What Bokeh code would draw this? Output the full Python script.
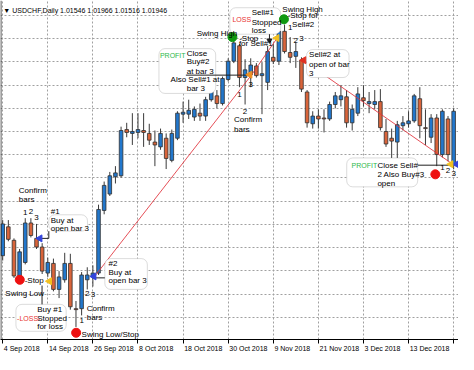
import numpy as np
from bokeh.plotting import figure
from bokeh.models import FixedTicker, BoxAnnotation, ColumnDataSource, Span
from bokeh.core.properties import value
from bokeh.embed import file_html
from bokeh.resources import INLINE

# ---- data: USDCHF daily candles (bar index 0 = 4 Sep 2018) ----
opens = [0.9700, 0.9760, 0.9732, 0.9658, 0.9686, 0.9768, 0.9736, 0.9718, 0.9664, 0.9684,
         0.9630, 0.9650, 0.9684, 0.9590, 0.9590, 0.9650, 0.9656, 0.9664, 0.9794, 0.9828,
         0.9864, 0.9866, 0.9962, 0.9954, 0.9956, 0.9960, 0.9954, 0.9936, 0.9926, 0.9944,
         0.9898, 0.9944, 0.9994, 0.9994, 0.9988, 0.9996, 0.9990, 1.0024, 1.0032, 1.0016,
         1.0066, 1.0104, 1.0136, 1.0070, 1.0076, 1.0094, 1.0074, 1.0060, 1.0112, 1.0104,
         1.0166, 1.0122, 1.0114, 1.0106, 1.0040, 0.9974, 0.9990, 0.9986, 0.9984, 1.0014,
         1.0024, 1.0030, 0.9976, 0.9996, 1.0028, 1.0016, 1.0014, 1.0020, 0.9958, 0.9944,
         0.9936, 0.9970, 0.9974, 0.9980, 1.0026, 0.9966, 0.9946, 0.9986, 0.9910, 0.9984,
         0.9890]
highs = [0.9774, 0.9774, 0.9736, 0.9714, 0.9778, 0.9778, 0.9766, 0.9726, 0.9696, 0.9694,
         0.9668, 0.9706, 0.9704, 0.9606, 0.9666, 0.9676, 0.9680, 0.9806, 0.9854, 0.9874,
         0.9886, 0.9968, 0.9976, 0.9996, 0.9996, 0.9996, 0.9974, 0.9960, 0.9964, 0.9954,
         0.9962, 1.0000, 1.0020, 1.0024, 1.0010, 1.0016, 1.0030, 1.0056, 1.0044, 1.0072,
         1.0110, 1.0146, 1.0140, 1.0108, 1.0110, 1.0100, 1.0102, 1.0136, 1.0140, 1.0174,
         1.0180, 1.0154, 1.0144, 1.0112, 1.0044, 1.0000, 1.0004, 1.0004, 1.0020, 1.0040,
         1.0054, 1.0044, 1.0014, 1.0050, 1.0054, 1.0040, 1.0044, 1.0046, 0.9984, 0.9964,
         0.9980, 0.9990, 1.0000, 1.0036, 1.0050, 1.0004, 0.9994, 0.9994, 1.0004, 0.9990,
         1.0006]
lows = [0.9690, 0.9730, 0.9654, 0.9654, 0.9682, 0.9738, 0.9714, 0.9662, 0.9656, 0.9626,
        0.9612, 0.9644, 0.9588, 0.9552, 0.9576, 0.9630, 0.9636, 0.9660, 0.9786, 0.9824,
        0.9850, 0.9862, 0.9946, 0.9930, 0.9944, 0.9926, 0.9930, 0.9886, 0.9920, 0.9880,
        0.9894, 0.9940, 0.9976, 0.9984, 0.9980, 0.9980, 0.9980, 1.0020, 1.0006, 1.0012,
        1.0062, 1.0100, 1.0050, 1.0014, 1.0050, 1.0070, 0.9994, 1.0044, 1.0098, 1.0096,
        1.0120, 1.0100, 1.0090, 1.0040, 0.9966, 0.9964, 0.9964, 0.9956, 0.9980, 1.0006,
        1.0010, 0.9966, 0.9960, 0.9990, 1.0010, 0.9996, 1.0004, 0.9960, 0.9926, 0.9898,
        0.9898, 0.9960, 0.9966, 0.9976, 0.9944, 0.9930, 0.9934, 0.9886, 0.9904, 0.9896,
        0.9880]
closes = [0.9766, 0.9734, 0.9658, 0.9708, 0.9768, 0.9742, 0.9718, 0.9668, 0.9686, 0.9630,
          0.9656, 0.9684, 0.9594, 0.9588, 0.9660, 0.9660, 0.9664, 0.9796, 0.9846, 0.9866,
          0.9872, 0.9960, 0.9956, 0.9958, 0.9962, 0.9956, 0.9940, 0.9930, 0.9954, 0.9902,
          0.9954, 0.9996, 0.9998, 1.0002, 1.0004, 0.9990, 1.0024, 1.0044, 1.0016, 1.0068,
          1.0104, 1.0142, 1.0070, 1.0086, 1.0096, 1.0074, 1.0078, 1.0124, 1.0104, 1.0166,
          1.0124, 1.0112, 1.0124, 1.0046, 0.9976, 0.9990, 0.9984, 0.9984, 1.0014, 1.0032,
          1.0032, 0.9976, 1.0004, 1.0036, 1.0022, 1.0020, 1.0020, 0.9966, 0.9932, 0.9938,
          0.9972, 0.9976, 0.9980, 1.0032, 0.9970, 0.9964, 0.9986, 0.9910, 1.0000, 0.9910,
          1.0000]
tick_bars = [0, 8, 16, 24, 32, 40, 48, 56, 64, 72, 80]
tick_labels = ["4 Sep 2018", "14 Sep 2018", "26 Sep 2018", "8 Oct 2018", "18 Oct 2018",
               "30 Oct 2018", "9 Nov 2018", "21 Nov 2018", "3 Dec 2018", "13 Dec 2018",
               "26 Dec 2018"]
title_text = "\u25BC USDCHF,Daily  1.01546 1.01966 1.01516 1.01946"

BULL = "#2277cc"
BEAR = "#d9643a"
FONT = value("Liberation Sans")
Y0, Y1 = 0.9526, 1.0230
X0, X1 = -0.39, 80.86

idx = list(range(len(opens)))
src = ColumnDataSource(dict(
    x=idx, o=opens, h=highs, l=lows, c=closes,
    top=[max(a, b) for a, b in zip(opens, closes)],
    bot=[min(a, b) for a, b in zip(opens, closes)],
    col=[BULL if c >= o else BEAR for o, c in zip(opens, closes)],
))

p = figure(width=458, height=354, x_range=(X0, X1), y_range=(Y0, Y1),
           output_backend="svg", toolbar_location=None,
           min_border_left=0, min_border_right=0, min_border_top=0, min_border_bottom=0)
p.outline_line_color = None
p.background_fill_color = "white"
p.yaxis.visible = False

# grid
p.xgrid.ticker = FixedTicker(ticks=tick_bars)
p.ygrid.ticker = FixedTicker(ticks=[1.01988 - 0.00482 * k for k in range(14)])
for g in (p.xgrid, p.ygrid):
    g.grid_line_color = "#a0a0a0"
    g.grid_line_dash = "2 2"
    g.grid_line_width = 1

# x axis: tick marks (minor ticks) at the label bars, date text to the right of each tick
PX_PER_BAR = 458 / (X1 - X0)
CHAR_EM = {" ": 0.278, "S": 0.667, "e": 0.556, "p": 0.556, "O": 0.778, "c": 0.5, "t": 0.278,
           "N": 0.722, "o": 0.556, "v": 0.5, "D": 0.722}
LAB_PX = 7


def half_width_bars(s):
    em = sum(CHAR_EM.get(ch, 0.556) for ch in s)
    return em * LAB_PX / 2 / PX_PER_BAR + 0.2


lab_pos = [b + half_width_bars(t) for b, t in zip(tick_bars, tick_labels)]
ax = p.xaxis[0]
ax.ticker = FixedTicker(ticks=lab_pos, minor_ticks=tick_bars)
ax.major_label_overrides = {pos: t for pos, t in zip(lab_pos, tick_labels)}
ax.major_label_text_font = "Liberation Sans"
ax.major_label_text_font_size = f"{LAB_PX}px"
ax.major_label_text_color = "black"
ax.major_label_standoff = 1
ax.major_tick_out = 4
ax.major_tick_in = 0
ax.major_tick_line_color = None
ax.minor_tick_out = 4
ax.minor_tick_in = 0
ax.minor_tick_line_color = "black"
ax.axis_line_color = "black"

# left chart border
p.add_layout(Span(location=-0.31, dimension="height", line_color="#202020", line_width=1))

# candles
p.segment(x0="x", y0="h", x1="x", y1="l", source=src, line_color="#3a3a3a", line_width=1)
p.vbar(x="x", width=0.64, top="top", bottom="bot", source=src,
       fill_color="col", line_color="#303030", line_width=0.8)

# trade lines
p.line([16.24, 44.18, 48.81], [0.9656, 1.0076, 1.0154], line_color="#e0303a", line_width=1, line_alpha=0.85)
p.line([53.27, 79.84], [1.0106, 0.9890], line_color="#e0303a", line_width=1, line_alpha=0.85)

# annotation boxes
boxes = [(8.18, 15.04, 0.9751, 0.9785), (2.35, 11.26, 0.9543, 0.9599),
         (18.12, 25.66, 0.9630, 0.9694), (27.72, 37.78, 1.0037, 1.0130),
         (40.29, 49.32, 1.0160, 1.0215), (53.9, 61.44, 1.0070, 1.0128),
         (61.03, 73.62, 0.9843, 0.9903)]
for l, r, b, t in boxes:
    p.add_layout(BoxAnnotation(left=l, right=r, bottom=b, top=t, fill_color="white",
                               fill_alpha=1, line_color="#8a8a8a", line_width=1,
                               border_radius=6))

# connector lines
conns = [([6.6, 8.18, 8.18], [0.9736, 0.9736, 0.9751]),
         ([6.98, 6.98], [0.9638, 0.9599]),
         ([16.4, 18.12], [0.9654, 0.9654]),
         ([32.5, 43.67], [1.0075, 1.0075]),
         ([47.32, 47.32], [1.0160, 1.0148]),
         ([73.62, 79.33], [0.9888, 0.9888])]
for xs, ys in conns:
    p.line(xs, ys, line_color="#202020", line_width=1, level="overlay")
p.scatter([47.32], [1.0147], marker="inverted_triangle", size=5, color="#202020", level="overlay")

# dots
p.scatter([3.03, 13.03, 76.75], [0.9650, 0.9540, 0.9869], size=9, color="#ee1010", level="overlay")
p.scatter([40.75, 49.89], [1.0154, 1.0191], size=9, color="#119911", level="overlay")

# arrows
p.scatter([6.6, 16.18, 80.5], [0.9736, 0.9657, 0.9890], marker="triangle", angle=np.pi / 2,
          size=7, color="#3344dd", level="overlay")
p.scatter([8.3, 48.64, 79.5], [0.9647, 1.0152, 0.9890], marker="triangle", angle=np.pi / 2,
          size=7, color="#f2c020", level="overlay")
p.scatter([43.84], [1.0076], marker="triangle", angle=np.pi / 2, size=7, color="#f09020", level="overlay")
p.scatter([53.4], [1.0106], marker="triangle", angle=np.pi / 2, size=7, color="#e03020", level="overlay")

# texts
black_txt = [
    ("Confirm", 2.86, 0.9835), ("bars", 2.86, 0.9816),
    ("#1", 8.52, 0.9791), ("Buy at", 8.52, 0.9774), ("open bar 3", 8.52, 0.9756),
    ("-Stop", 3.89, 0.9649), ("Swing Low", 0.46, 0.9622),
    ("Buy  #1", 6.12, 0.9588), ("Stopped", 6.12, 0.9570), ("for loss", 6.12, 0.9552),
    ("Confirm", 14.9, 0.9591), ("bars", 14.9, 0.9572),
    ("Swing Low/Stop", 14.0, 0.9537),
    ("#2", 18.76, 0.9684), ("Buy at", 18.76, 0.9666), ("open bar 3", 18.76, 0.9648),
    ("Close", 32.64, 1.0120), ("Buy#2", 32.64, 1.0103), ("at bar 3", 32.64, 1.0083),
    ("Also Sell#1 at", 29.78, 1.0065), ("bar 3", 32.64, 1.0047),
    ("Swing High", 34.41, 1.0161), ("-Stop", 41.95, 1.0151), ("for Sell#1", 41.9, 1.0140),
    ("Sell#1", 44.18, 1.0205), ("Stopped", 44.18, 1.0185), ("loss", 44.18, 1.0168),
    ("Swing High", 49.61, 1.0212), ("-Stop for", 50.52, 1.0199), ("Sell#2", 51.33, 1.0181),
    ("Sell#2 at", 54.35, 1.0117), ("open of bar", 54.35, 1.0097), ("3", 54.35, 1.0078),
    ("Confirm", 41.04, 0.9982), ("bars", 41.04, 0.9963),
    ("Close Sell#", 66.47, 0.9888), ("2 Also Buy#3", 66.47, 0.9869), ("open", 66.47, 0.9850),
]
num_txt = [("1", 4, 0.9790), ("2", 5, 0.9792), ("3", 6, 0.9780),
           ("1", 14, 0.9565), ("2", 15, 0.9622), ("3", 16, 0.9620),
           ("1", 42, 1.0035), ("2", 43, 0.9999), ("3", 44, 1.0055),
           ("1", 51, 1.0174), ("2", 52, 1.0146), ("3", 53, 1.0152),
           ("1", 78, 0.9883), ("2", 79, 0.9877), ("3", 80, 0.9870)]
red_txt = [("-LOSS-", 2.55, 0.9570), ("LOSS", 40.75, 1.0191)]
green_txt = [("PROFIT", 27.89, 1.0115), ("PROFIT", 61.89, 0.9887)]


def draw(items, color, size, align="left"):
    p.text(x=[t[1] for t in items], y=[t[2] for t in items], text=[t[0] for t in items],
           text_font=FONT, text_font_size=size, text_color=color, text_align=align,
           text_baseline="middle", level="overlay")


draw(black_txt, "black", "8px")
draw(num_txt, "black", "8px", "center")
draw(red_txt, "#e83030", "7px")
draw(green_txt, "#2db84a", "7px")
p.text(x=[0.12], y=[1.0210], text=[title_text], text_font=FONT, text_font_size="7px",
       text_color="black", text_baseline="middle", level="overlay")

open("out.html", "w").write(file_html(p, INLINE))
